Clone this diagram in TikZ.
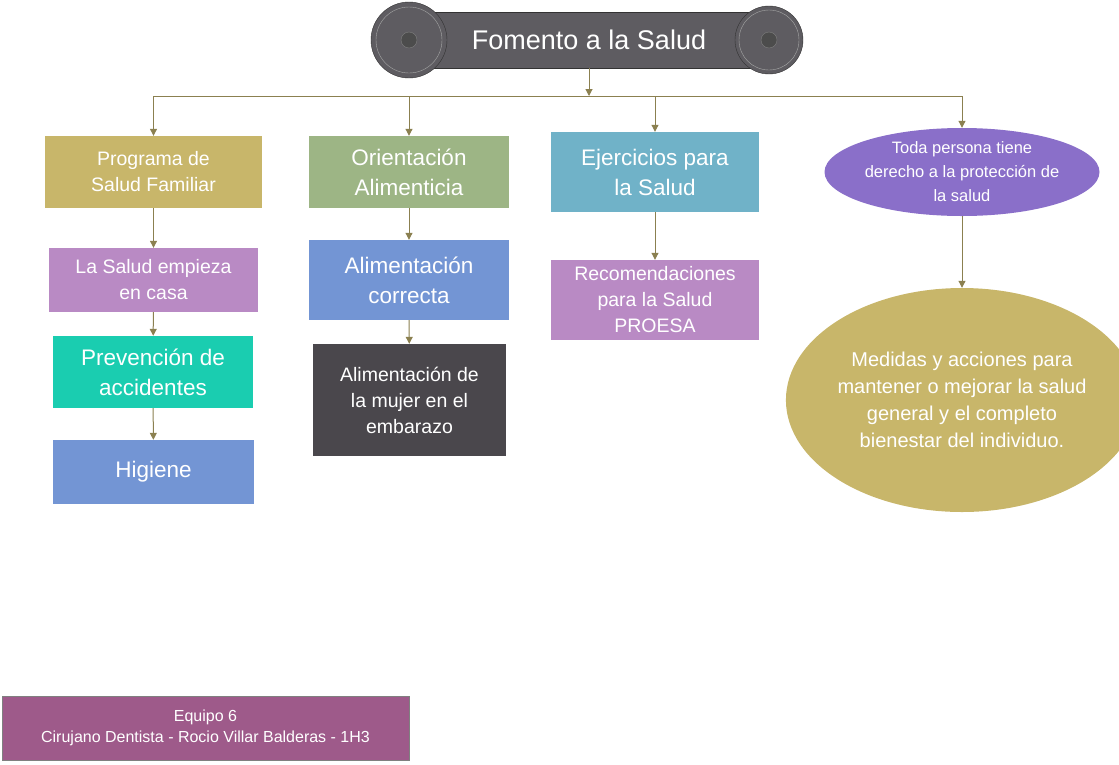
\documentclass[tikz,border=0pt]{standalone}
\usepackage{fontspec}
\setmainfont{Liberation Sans}
\usetikzlibrary{arrows.meta,shapes.geometric}
\definecolor{khaki}{HTML}{C8B66A}
\definecolor{lila}{HTML}{B98AC4}
\definecolor{teal}{HTML}{1ACDB0}
\definecolor{azul}{HTML}{7395D4}
\definecolor{verde}{HTML}{9DB585}
\definecolor{oscuro}{HTML}{4A474C}
\definecolor{celeste}{HTML}{70B2C8}
\definecolor{morado}{HTML}{8A6FC9}
\definecolor{pie}{HTML}{9E5A8A}
\definecolor{linea}{HTML}{8B8050}
\definecolor{gris}{HTML}{5E5C61}
\begin{document}
\begin{tikzpicture}[x=1pt,y=-1pt,
 bx/.style={draw=none,text=white,align=center,inner sep=0pt},
 big/.style={font=\fontsize{22.5}{30}\selectfont},
 mid/.style={font=\fontsize{19.5}{26}\selectfont},
 small/.style={font=\fontsize{16.5}{24}\selectfont},
 con/.style={draw=linea,line width=1pt,-{Triangle[length=7pt,width=7pt]}}]
\useasboundingbox (0,0) rectangle (1119,764);
% title
\fill[gris,draw=gray!40!black] (420,12) rectangle (770,68);
\fill[gris,draw=gray!40!black] (409,40) circle[radius=38];
\draw[gray!70] (409,40) circle[radius=33];
\fill[gray!60!black,draw=gray] (409,40) circle[radius=8];
\fill[gris,draw=gray!40!black] (769,40) circle[radius=34];
\draw[gray!70] (769,40) circle[radius=30];
\fill[gray!60!black,draw=gray] (769,40) circle[radius=8];
\node[bx,font=\fontsize{27}{32}\selectfont] (t) at (589,40) {Fomento a la Salud};
\coordinate (tb) at (589,68);
\coordinate (hub) at (589,96);
% boxes
\node[bx,fill=khaki,minimum width=217,minimum height=72,mid] (p1) at (153.5,172) {Programa de\\Salud Familiar};
\node[bx,fill=lila,minimum width=209,minimum height=64,mid] (p2) at (153.5,280) {La Salud empieza\\en casa};
\node[bx,fill=teal,minimum width=200,minimum height=72,big] (p3) at (153,372) {Prevención de\\accidentes};
\node[bx,fill=azul,minimum width=201,minimum height=64,big] (p4) at (153.5,472) {Higiene};
\node[bx,fill=verde,minimum width=200,minimum height=72,big] (o1) at (409,172) {Orientación\\Alimenticia};
\node[bx,fill=azul,minimum width=200,minimum height=80,big] (o2) at (409,280) {Alimentación\\correcta};
\node[bx,fill=oscuro,minimum width=193,minimum height=112,mid] (o3) at (409.5,400) {Alimentación de\\la mujer en el\\embarazo};
\node[bx,fill=celeste,minimum width=208,minimum height=80,big] (e1) at (655,172) {Ejercicios para\\la Salud};
\node[bx,fill=lila,minimum width=208,minimum height=80,mid] (e2) at (655,300) {Recomendaciones\\para la Salud\\PROESA};
\node[bx,ellipse,fill=morado,inner sep=0pt,minimum width=264,minimum height=88,small] (d1) at (962,172) {Toda persona tiene\\derecho a la protección de\\la salud};
\node[bx,ellipse,fill=khaki,inner sep=0pt,minimum width=270,minimum height=224,font=\fontsize{20}{27}\selectfont] (d2) at (962,400) {Medidas y acciones para\\mantener o mejorar la salud\\general y el completo\\bienestar del individuo.};
\node[bx,fill=pie,draw=gray,minimum width=407,minimum height=64,font=\fontsize{16}{21}\selectfont] (f) at (205.5,728) {Equipo 6\\Cirujano Dentista - Rocio Villar Balderas - 1H3};
% connectors
\draw[con] (tb) -- (hub);
\draw[draw=linea,line width=1pt] (p1.north |- hub) -- (d1.north |- hub);
\draw[con] (p1.north |- hub) -- (p1.north);
\draw[con] (o1.north |- hub) -- (o1.north);
\draw[con] (e1.north |- hub) -- (e1.north);
\draw[con] (d1.north |- hub) -- (d1.north);
\draw[con] (p1) -- (p2);
\draw[con] (p2) -- (p3);
\draw[con] (p3) -- (p4);
\draw[con] (o1) -- (o2);
\draw[con] (o2) -- (o3);
\draw[con] (e1) -- (e2);
\draw[con] (d1) -- (d2);
\end{tikzpicture}
\end{document}
